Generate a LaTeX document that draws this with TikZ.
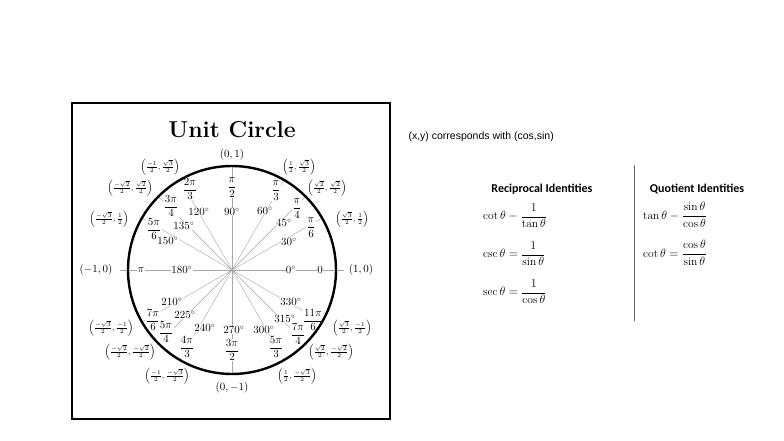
\documentclass[tikz,border=0pt]{standalone}
\usepackage{amsmath}
\usepackage{fontspec}
\newfontfamily\arialf{Liberation Sans}
\newfontfamily\calf{Carlito}
\begin{document}
\begin{tikzpicture}[x=1pt,y=-1pt,
  lab/.style={inner sep=0.3pt,fill=white,font=\fontsize{10.5}{12}\selectfont},
  crd/.style={inner sep=0pt,font=\fontsize{9}{10}\selectfont},
  ray/.style={gray!70,line width=0.4pt},
  eq/.style={anchor=west,inner sep=0pt,font=\fontsize{11.5}{13}\selectfont}]
\useasboundingbox (0,0) rectangle (784,441);
\node[draw,line width=1.6pt,minimum width=318,minimum height=316,inner sep=0] (box) at (231,261) {};
\node[font=\bfseries\fontsize{23}{25}\selectfont] (title) at (232,130) {Unit Circle};
\coordinate (o) at (232,270);
\foreach \a in {0,30,45,60,90,120,135,150,180,210,225,240,270,300,315,330}
  \draw[ray] (o) -- ++(\a:104);
\draw[ray] (o) ++(0:104) -- ++(0:8);
\draw[ray] (o) ++(180:104) -- ++(180:8);
\node[crd,font=\fontsize{10.5}{12}\selectfont] (c0) at (361,270) {$(1,0)$};
\node[crd,font=\fontsize{10.5}{12}\selectfont] (c180) at (96,270) {$(-1,0)$};
\node[crd,font=\fontsize{10.5}{12}\selectfont] (c90) at (232,155) {$(0,1)$};
\node[crd,font=\fontsize{10.5}{12}\selectfont] (c270) at (232,388) {$(0,-1)$};
\node[crd] (c60) at (299,167) {$\left(\frac{1}{2},\frac{\sqrt3}{2}\right)$};
\node[crd] (c45) at (327,188) {$\left(\frac{\sqrt2}{2},\frac{\sqrt2}{2}\right)$};
\node[crd] (c30) at (352,219) {$\left(\frac{\sqrt3}{2},\frac{1}{2}\right)$};
\node[crd] (c120) at (160,167) {$\left(\frac{-1}{2},\frac{\sqrt3}{2}\right)$};
\node[crd] (c135) at (130,188) {$\left(\frac{-\sqrt2}{2},\frac{\sqrt2}{2}\right)$};
\node[crd] (c150) at (109,219) {$\left(\frac{-\sqrt3}{2},\frac{1}{2}\right)$};
\node[crd] (c210) at (111,328) {$\left(\frac{-\sqrt3}{2},\frac{-1}{2}\right)$};
\node[crd] (c225) at (130,352) {$\left(\frac{-\sqrt2}{2},\frac{-\sqrt2}{2}\right)$};
\node[crd] (c240) at (167,376) {$\left(\frac{-1}{2},\frac{-\sqrt3}{2}\right)$};
\node[crd] (c300) at (297,376) {$\left(\frac{1}{2},\frac{-\sqrt3}{2}\right)$};
\node[crd] (c315) at (331,352) {$\left(\frac{\sqrt2}{2},\frac{-\sqrt2}{2}\right)$};
\node[crd] (c330) at (352,328) {$\left(\frac{\sqrt3}{2},\frac{-1}{2}\right)$};
\node[lab] (r90) at (232,188) {$\dfrac{\pi}{2}$};
\node[lab] (r60) at (276,191) {$\dfrac{\pi}{3}$};
\node[lab] (r45) at (297,209) {$\dfrac{\pi}{4}$};
\node[lab] (r30) at (311,228) {$\dfrac{\pi}{6}$};
\node[lab] (r120) at (190,189) {$\dfrac{2\pi}{3}$};
\node[lab] (r135) at (171,206) {$\dfrac{3\pi}{4}$};
\node[lab] (r150) at (154,229) {$\dfrac{5\pi}{6}$};
\node[lab] (r180) at (141,270) {$\pi$};
\node[lab] (r0) at (320,270) {$0$};
\node[lab] (r210) at (153,320) {$\dfrac{7\pi}{6}$};
\node[lab] (r225) at (166,332) {$\dfrac{5\pi}{4}$};
\node[lab] (r240) at (187,347) {$\dfrac{4\pi}{3}$};
\node[lab] (r270) at (232,350) {$\dfrac{3\pi}{2}$};
\node[lab] (r300) at (276,347) {$\dfrac{5\pi}{3}$};
\node[lab] (r315) at (298,334) {$\dfrac{7\pi}{4}$};
\node[lab] (r330) at (313,320) {$\dfrac{11\pi}{6}$};
\node[lab] (d90) at (232,212) {$90^\circ$};
\node[lab] (d60) at (265,211) {$60^\circ$};
\node[lab] (d45) at (284,223) {$45^\circ$};
\node[lab] (d30) at (289,242) {$30^\circ$};
\node[lab] (d120) at (199,212) {$120^\circ$};
\node[lab] (d135) at (184,226) {$135^\circ$};
\node[lab] (d150) at (168,241) {$150^\circ$};
\node[lab] (d180) at (182,270) {$180^\circ$};
\node[lab] (d0) at (291,270) {$0^\circ$};
\node[lab] (d210) at (172,302) {$210^\circ$};
\node[lab] (d225) at (185,315) {$225^\circ$};
\node[lab] (d240) at (205,328) {$240^\circ$};
\node[lab] (d270) at (234,330) {$270^\circ$};
\node[lab] (d300) at (264,330) {$300^\circ$};
\node[lab] (d315) at (285,319) {$315^\circ$};
\node[lab] (d330) at (291,302) {$330^\circ$};
\draw[line width=2.4pt] (o) circle[radius=104];
\node[font=\arialf\fontsize{10.5}{12}\selectfont,anchor=west] (xy) at (405,137) {(x,y) corresponds with (cos,sin)};
\node[font=\calf\bfseries\fontsize{12}{14}\selectfont] (rt) at (542,189) {Reciprocal Identities};
\node[font=\calf\bfseries\fontsize{12}{14}\selectfont] (qt) at (697,189) {Quotient Identities};
\coordinate (vt) at (634,165); \coordinate (vb) at (634,321);
\draw[line width=0.8pt,gray!80!black] (vt) -- (vb);
\node[eq] (e1) at (483,216) {$\cot\theta - \dfrac{1}{\tan\theta}$};
\node[eq] (e2) at (483,254) {$\csc\theta = \dfrac{1}{\sin\theta}$};
\node[eq] (e3) at (483,292) {$\sec\theta = \dfrac{1}{\cos\theta}$};
\node[eq] (e4) at (643,215) {$\tan\theta - \dfrac{\sin\theta}{\cos\theta}$};
\node[eq] (e5) at (643,253) {$\cot\theta = \dfrac{\cos\theta}{\sin\theta}$};
\end{tikzpicture}
\end{document}
